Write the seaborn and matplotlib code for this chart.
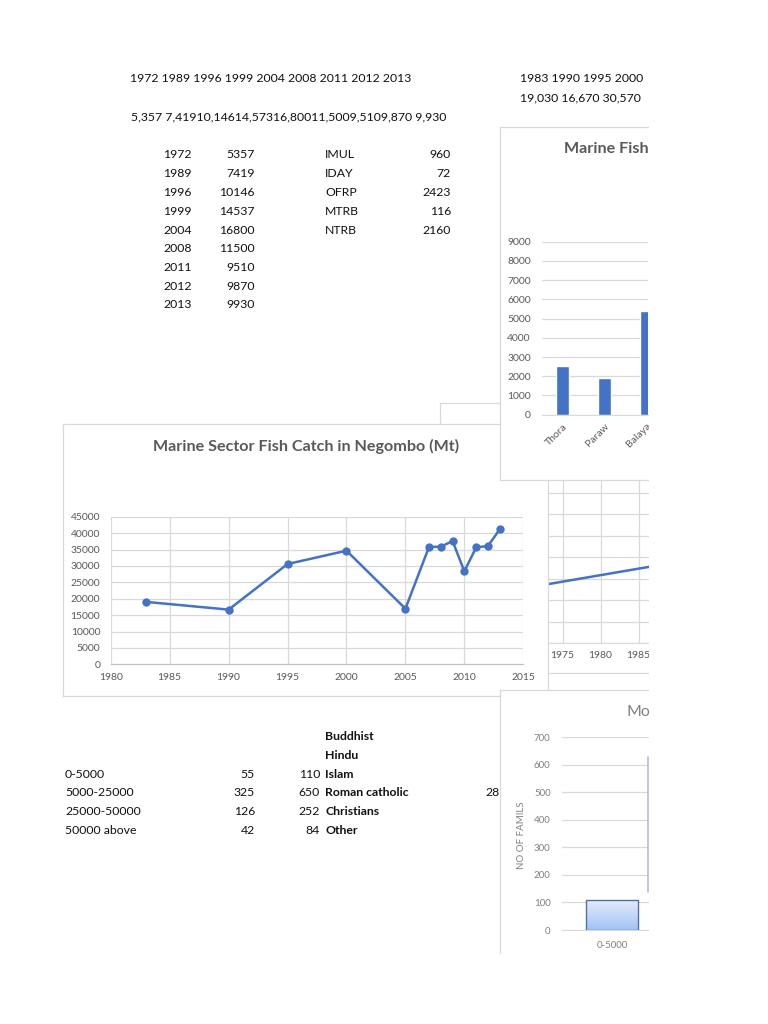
import numpy as np
import pandas as pd
import matplotlib
matplotlib.use("Agg")
import matplotlib.pyplot as plt
import seaborn as sns
from matplotlib.patches import Rectangle
from matplotlib.lines import Line2D
from matplotlib.colors import LinearSegmentedColormap

# datos de la hoja
years_a = [1972, 1989, 1996, 1999, 2004, 2008, 2011, 2012, 2013]
catch_a = [5357, 7419, 10146, 14537, 16800, 11500, 9510, 9870, 9930]
crafts = ['IMUL', 'IDAY', 'OFRP', 'MTRB', 'NTRB']
craft_count = [960, 72, 2423, 116, 2160]

years_b = [1983, 1990, 1995, 2000, 2005, 2007, 2008, 2009, 2010, 2011, 2012, 2013]
catch_b = [19030, 16670, 30570, 34640, 16960, 35760, 35860, 37580, 28340, 35650, 36060, 41140]

boats = ['Thora', 'Paraw', 'Balaya']
boat_catch = [2550, 1900, 5400]

income_bins = ['0-5000', '5000-25000', '25000-50000', '50000 above']
fam_a = [55, 325, 126, 42]
fam_b = [110, 650, 252, 84]
religions = ['Buddhist', 'Hindu', 'Islam', 'Roman catholic', 'Christians', 'Other']

W, H = 768, 1024
blue = '#4472C4'
grid_c = '#d9d9d9'
lab_c = '#595959'

sns.set_style('white')
plt.rcParams['font.family'] = ['Lato', 'DejaVu Sans']

fig = plt.figure(figsize=(W / 100, H / 100), dpi=100)


def box(x0, y0, x1, y1):
    return [x0 / W, 1 - y1 / H, (x1 - x0) / W, (y1 - y0) / H]


def txt(x, y, s, **kw):
    kw.setdefault('zorder', 0.5)
    kw.setdefault('fontsize', 8.8)
    kw.setdefault('color', '#111111')
    fig.text(x / W, 1 - y / H, s, va='center', **kw)


def frame(x0, y0, x1, y1, z, hide=()):
    a = fig.add_axes(box(x0, y0, x1, y1), zorder=z)
    a.set_xticks([])
    a.set_yticks([])
    a.set_facecolor('white')
    for s in a.spines.values():
        s.set_color(grid_c)
        s.set_linewidth(0.9)
    for s in hide:
        a.spines[s].set_visible(False)
    return a


def plot_axes(x0, y0, x1, y1, z):
    a = fig.add_axes(box(x0, y0, x1, y1), zorder=z)
    a.patch.set_alpha(0)
    for s in a.spines.values():
        s.set_visible(False)
    return a


# ---- texto de la hoja ----
txt(130, 78, ' '.join(str(y) for y in years_a))
txt(131, 117, '5,357 7,41910,14614,57316,80011,5009,5109,870 9,930')
# lo que se ve antes del borde derecho de la captura
txt(520, 78, ' '.join(str(y) for y in years_b[:4]))
txt(520, 98, ' '.join(f'{v:,}' for v in catch_b[:3]))

for i, (yr, v) in enumerate(zip(years_a, catch_a)):
    yy = 155 + i * 18.75
    txt(163, yy, str(yr))
    txt(255, yy, str(v), ha='right')
for i, (c, n) in enumerate(zip(crafts, craft_count)):
    yy = 155 + i * 18.75
    txt(325, yy, c)
    txt(451, yy, str(n), ha='right')

for i, r in enumerate(religions):
    txt(325, 737 + i * 18.6, r, fontweight='bold')
for i, (b, a1, b1) in enumerate(zip(income_bins, fam_a, fam_b)):
    yy = 737 + (i + 2) * 18.6
    txt(65, yy, b)
    txt(255, yy, str(a1), ha='right')
    txt(320, yy, str(b1), ha='right')
txt(485, 737 + 3 * 18.6, '28')

# ---- grafico de fondo (serie 1972-2013) ----
frame(440, 403, 800, 673, 1)
ax0 = plot_axes(524.5, 450, 866.5, 643, 1.1)
sns.lineplot(x=years_a, y=catch_a, color=blue, lw=1.8, ax=ax0)
ax0.set_xlim(1970, 2015)
ax0.set_ylim(0, 18000)
ax0.set_xticks(range(1970, 1990, 5))
ax0.set_yticks(range(0, 18001, 2000))
ax0.grid(color=grid_c, lw=0.9)
ax0.spines['bottom'].set_visible(True)
ax0.spines['bottom'].set_color(grid_c)
ax0.tick_params(length=0, labelsize=7.5, labelcolor=lab_c, pad=6)
ax0.set_xlabel('')
ax0.set_ylabel('')

# ---- grafico principal ----
frame(63, 424, 548, 696, 2)
ax = plot_axes(110.7, 516.7, 523.3, 664.3, 2.1)
sns.lineplot(x=years_b, y=catch_b, marker='o', color=blue, lw=1.8,
             markersize=6, markeredgewidth=0, ax=ax)
ax.set_xlim(1980, 2015)
ax.set_ylim(0, 45000)
ax.set_xticks(range(1980, 2016, 5))
ax.set_yticks(range(0, 45001, 5000))
ax.grid(color=grid_c, lw=0.9)
ax.spines['bottom'].set_visible(True)
ax.spines['bottom'].set_color('#bfbfbf')
ax.tick_params(axis='y', length=0, labelsize=7.5, labelcolor=lab_c, pad=7.5)
ax.tick_params(axis='x', length=0, labelsize=7.5, labelcolor=lab_c, pad=6)
ax.set_xlabel('')
ax.set_ylabel('')
txt(306, 446, 'Marine Sector Fish Catch in Negombo (Mt)', ha='center',
    fontsize=11.6, fontweight='bold', color=lab_c, zorder=2.2)

# ---- barras por tipo de embarcacion ----
frame(500, 127, 800, 480, 3)
ax2 = plot_axes(542, 241.7, 648, 414.7, 3.1)
sns.barplot(x=boats, y=boat_catch, color=blue, width=0.31, saturation=1, ax=ax2)
ax2.set_xlim(-0.5, 2.04)
ax2.set_ylim(0, 9000)
ax2.set_yticks(range(0, 9001, 1000))
ax2.yaxis.grid(True, color=grid_c, lw=0.9)
ax2.set_axisbelow(True)
ax2.spines['bottom'].set_visible(True)
ax2.spines['bottom'].set_color(grid_c)
ax2.set_xticks(range(len(boats)))
ax2.set_xticklabels(boats, rotation=45, ha='right', rotation_mode='anchor')
ax2.tick_params(axis='y', length=0, labelsize=7.5, labelcolor=lab_c, pad=8)
ax2.tick_params(axis='x', length=0, labelsize=7.5, labelcolor=lab_c, pad=5)
ax2.set_xlabel('')
ax2.set_ylabel('')
txt(564, 149, 'Marine Fish', fontsize=11.6,
    fontweight='bold', color=lab_c, zorder=3.2)

# ---- familias por ingreso mensual ----
frame(500, 690, 800, 953, 3, hide=('bottom',))
ax3 = plot_axes(561.7, 737.3, 561.7 + 4 * 100.6, 930, 3.1)
sns.barplot(x=income_bins, y=fam_b, color='#c5d9f7', width=0.52, saturation=1, ax=ax3)
cmap = LinearSegmentedColormap.from_list('fam', ['#a3c3f4', '#e4edfc'])
grad = np.linspace(0, 1, 64).reshape(-1, 1)
for p in ax3.patches:
    x0, w, h = p.get_x(), p.get_width(), p.get_height()
    im = ax3.imshow(grad, extent=[x0, x0 + w, 0, h], origin='lower', aspect='auto',
                    cmap=cmap, zorder=p.get_zorder())
    im.set_clip_path(p)
    p.set_facecolor('none')
    p.set_edgecolor('#5270a8')
    p.set_linewidth(1.0)
    p.set_zorder(p.get_zorder() + 0.1)
ax3.set_xlim(-0.5, 3.5)
ax3.set_ylim(0, 700)
ax3.set_yticks(range(0, 701, 100))
ax3.set_xticks([0])
ax3.set_xticklabels(income_bins[:1])
ax3.yaxis.grid(True, color=grid_c, lw=0.9)
ax3.set_axisbelow(True)
ax3.spines['bottom'].set_visible(True)
ax3.spines['bottom'].set_color(grid_c)
ax3.tick_params(axis='y', length=0, labelsize=7, labelcolor='#808080', pad=8)
ax3.tick_params(axis='x', length=0, labelsize=7, labelcolor='#808080', pad=8)
ax3.set_xlabel('')
ax3.set_ylabel('')
txt(522, 835, 'NO OF FAMILS', ha='center', rotation=90, fontsize=7,
    color='#808080', zorder=3.2)
txt(627, 712, 'Mo', fontsize=11.5, color='#808080', zorder=3.2)
fig.add_artist(Line2D([648 / W, 648 / W], [1 - 757 / H, 1 - 892 / H],
                      color='#b9b9d3', lw=1.2, zorder=3.3))

# la captura termina en x=648
fig.add_artist(Rectangle((649 / W, 0), 1, 1, transform=fig.transFigure,
                         facecolor='white', edgecolor='none', zorder=10))

fig.savefig('out.png', dpi=100)
